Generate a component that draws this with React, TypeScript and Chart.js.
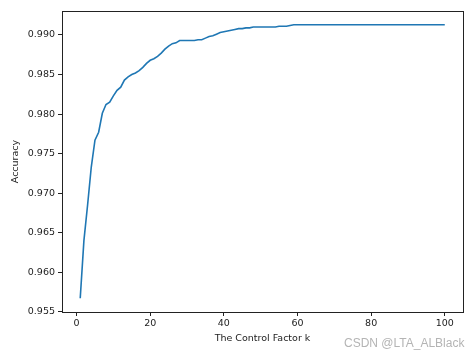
import React, { useEffect, useRef } from "react";
import { Chart, registerables } from "chart.js";

Chart.register(...registerables);

const kValues: number[] = Array.from({ length: 100 }, (_, i) => i + 1);

const accuracy: number[] = [
  0.9567, 0.9640, 0.9685, 0.9733, 0.9767, 0.9777, 0.9801, 0.9812, 0.9815, 0.9823,
  0.9830, 0.9834, 0.9843, 0.9847, 0.9850, 0.9852, 0.9855, 0.9859, 0.9864, 0.9868,
  0.9870, 0.9873, 0.9877, 0.9882, 0.9886, 0.9889, 0.9890, 0.9893, 0.9893, 0.9893,
  0.9893, 0.9893, 0.9894, 0.9894, 0.9896, 0.9898, 0.9899, 0.9901, 0.9903, 0.9904,
  0.9905, 0.9906, 0.9907, 0.9908, 0.9908, 0.9909, 0.9909, 0.9910, 0.9910, 0.9910,
  0.9910, 0.9910, 0.9910, 0.9910, 0.9911, 0.9911, 0.9911, 0.9912, 0.9913, 0.9913,
  0.9913, 0.9913, 0.9913, 0.9913, 0.9913, 0.9913, 0.9913, 0.9913, 0.9913, 0.9913,
  0.9913, 0.9913, 0.9913, 0.9913, 0.9913, 0.9913, 0.9913, 0.9913, 0.9913, 0.9913,
  0.9913, 0.9913, 0.9913, 0.9913, 0.9913, 0.9913, 0.9913, 0.9913, 0.9913, 0.9913,
  0.9913, 0.9913, 0.9913, 0.9913, 0.9913, 0.9913, 0.9913, 0.9913, 0.9913, 0.9913,
];

const xTicks: number[] = [0, 20, 40, 60, 80, 100];
const yTicks: number[] = [0.955, 0.96, 0.965, 0.97, 0.975, 0.98, 0.985, 0.99];

const xTitle = "The Control Factor k";
const yTitle = "Accuracy";
const watermark = "CSDN @LTA_ALBlack";

const FONT = "'DejaVu Sans', sans-serif";

const frame = {
  id: "frame",
  afterDatasetsDraw(chart: any) {
    const { ctx, chartArea } = chart;
    ctx.save();
    ctx.strokeStyle = "#222";
    ctx.lineWidth = 1;
    ctx.strokeRect(
      Math.round(chartArea.left) + 0.5,
      Math.round(chartArea.top) + 0.5,
      Math.round(chartArea.right - chartArea.left),
      Math.round(chartArea.bottom - chartArea.top)
    );
    ctx.restore();
  },
};

export default function App() {
  const ref = useRef<HTMLCanvasElement>(null);

  useEffect(() => {
    if (!ref.current) return;
    const chart = new Chart(ref.current, {
      type: "line",
      data: {
        datasets: [
          {
            data: kValues.map((k, i) => ({ x: k, y: accuracy[i] })),
            borderColor: "#1f77b4",
            borderWidth: 1.6,
            pointRadius: 0,
            tension: 0,
            fill: false,
          },
        ],
      },
      options: {
        responsive: false,
        animation: false,
        layout: { padding: { left: 0, right: 11, top: 11, bottom: 0 } },
        plugins: { legend: { display: false }, tooltip: { enabled: false } },
        scales: {
          x: {
            type: "linear",
            min: -3.95,
            max: 104.95,
            afterBuildTicks: (scale: any) => {
              scale.ticks = xTicks.map((v) => ({ value: v }));
            },
            afterFit: (scale: any) => {
              scale.height = 43;
            },
            grid: {
              drawOnChartArea: false,
              drawTicks: true,
              tickLength: 4,
              tickColor: "#222",
            },
            border: { display: false },
            ticks: {
              color: "#222",
              font: { family: FONT, size: 9.5 },
              padding: 2,
              maxRotation: 0,
              callback: (v: any) => String(v),
            },
            title: {
              display: true,
              text: xTitle,
              color: "#222",
              font: { family: FONT, size: 9.5 },
              padding: { top: 1, bottom: 11 },
            },
          },
          y: {
            type: "linear",
            min: 0.95497,
            max: 0.99303,
            afterBuildTicks: (scale: any) => {
              scale.ticks = yTicks.map((v) => ({ value: v }));
            },
            afterFit: (scale: any) => {
              scale.width = 62;
            },
            grid: {
              drawOnChartArea: false,
              drawTicks: true,
              tickLength: 4,
              tickColor: "#222",
            },
            border: { display: false },
            ticks: {
              color: "#222",
              font: { family: FONT, size: 9.5 },
              padding: 3,
              callback: (v: any) => Number(v).toFixed(3),
            },
            title: {
              display: true,
              text: yTitle,
              color: "#222",
              font: { family: FONT, size: 9.5 },
              padding: { top: 10, bottom: 2 },
            },
          },
        },
      },
      plugins: [frame],
    });
    return () => chart.destroy();
  }, []);

  return (
    <div
      style={{
        position: "fixed",
        left: 0,
        top: 0,
        width: 474,
        height: 355,
        background: "#fff",
      }}
    >
      <canvas ref={ref} width={474} height={355} style={{ display: "block" }} />
      <div
        style={{
          position: "absolute",
          left: 344,
          top: 336,
          fontFamily: "'Liberation Sans', Arial, sans-serif",
          fontSize: 12,
          color: "#b4b4b4",
          whiteSpace: "nowrap",
        }}
      >
        {watermark}
      </div>
    </div>
  );
}
